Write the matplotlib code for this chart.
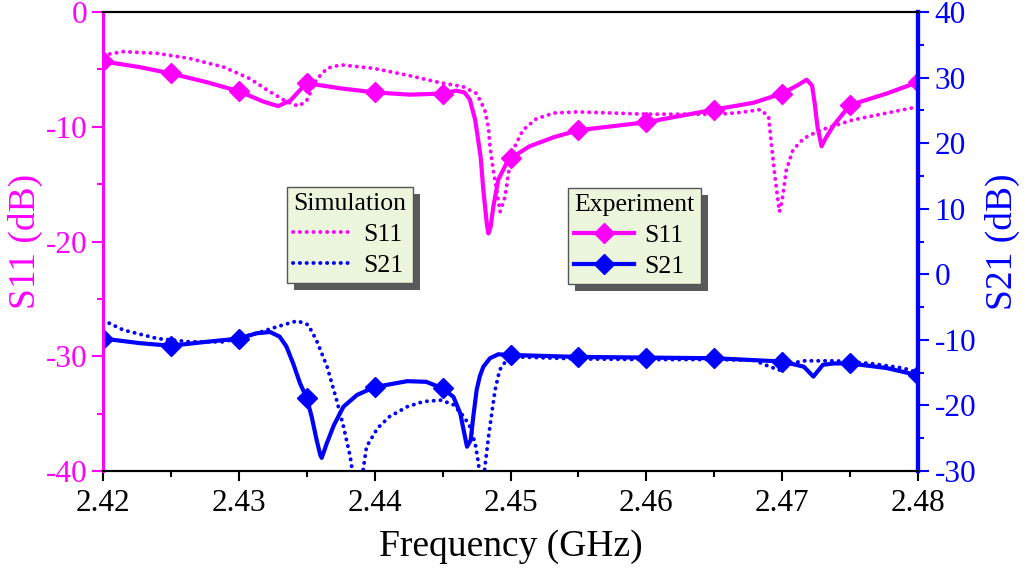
import numpy as np
import matplotlib
matplotlib.use('Agg')
import matplotlib.pyplot as plt
from matplotlib.lines import Line2D
from matplotlib.patches import Rectangle
from matplotlib.ticker import MultipleLocator, FormatStrFormatter

plt.rcParams['font.family'] = 'serif'
plt.rcParams['font.serif'] = ['Liberation Serif', 'DejaVu Serif']
plt.rcParams['axes.unicode_minus'] = False

# Measured S11 (left axis, dB)
f_s11_exp = [2.4200, 2.4227, 2.4250, 2.4276, 2.4300, 2.4318, 2.4329, 2.4338, 2.4345, 2.4350,
             2.4375, 2.4400, 2.4426, 2.4450, 2.4460, 2.4466, 2.4470, 2.4474, 2.4478, 2.4480,
             2.44825, 2.44837, 2.44854, 2.44873, 2.4491, 2.4497, 2.4500, 2.4514, 2.4532, 2.4550,
             2.4600, 2.4650, 2.4679, 2.4700, 2.4711, 2.4718, 2.4722, 2.4724, 2.4726, 2.4729,
             2.4732, 2.4738, 2.4750, 2.4777, 2.4800]
s11_exp = [-4.3, -4.8, -5.35, -6.1, -6.9, -7.8, -8.2, -7.7, -6.8, -6.2,
           -6.65, -7.0, -7.2, -7.1, -6.85, -7.0, -7.6, -9.4, -12.6, -15.5,
           -18.4, -19.3, -18.7, -17.0, -14.6, -13.2, -12.75, -11.7, -10.9, -10.3,
           -9.6, -8.5, -7.9, -7.1, -6.4, -5.9, -6.4, -8.0, -10.0, -11.7,
           -11.0, -9.85, -8.1, -7.1, -6.1]

# Simulated S11 (left axis, dB)
f_s11_sim = [2.4200, 2.4215, 2.4240, 2.4264, 2.4289, 2.4308, 2.4323, 2.4335, 2.4344, 2.4350,
             2.4357, 2.4365, 2.4375, 2.4399, 2.4424, 2.4448, 2.4465, 2.4475, 2.4481, 2.44837,
             2.44849, 2.44873, 2.44898, 2.44923, 2.4496, 2.44984, 2.4502, 2.4509, 2.4519, 2.4532,
             2.4549, 2.4600, 2.4654, 2.4669, 2.4684, 2.4690, 2.4692, 2.46947, 2.46972, 2.4698,
             2.4700, 2.4703, 2.4708, 2.4716, 2.4728, 2.4752, 2.4777, 2.4800]
s11_sim = [-3.75, -3.45, -3.6, -4.05, -4.8, -5.8, -6.95, -7.8, -8.2, -7.7,
           -5.9, -4.9, -4.6, -4.9, -5.5, -6.15, -6.5, -7.1, -8.5, -10.0,
           -11.7, -13.8, -15.5, -17.4, -16.1, -14.1, -12.0, -10.3, -9.3, -8.8,
           -8.7, -8.9, -8.9, -8.75, -8.5, -9.1, -11.45, -14.35, -16.7, -17.4,
           -16.4, -13.8, -12.0, -11.0, -10.3, -9.4, -8.8, -8.25]

# Measured S21 (right axis, dB)
f_s21_exp = [2.4200, 2.4227, 2.4250, 2.4276, 2.4300, 2.4313, 2.4323, 2.4330, 2.4335, 2.4340,
             2.4345, 2.4350, 2.43536, 2.43573, 2.4360, 2.4361, 2.43622, 2.43647, 2.4370, 2.4377,
             2.4387, 2.4400, 2.4424, 2.4438, 2.4450, 2.4458, 2.4463, 2.44665, 2.4468, 2.44707,
             2.44726, 2.44751, 2.44775, 2.4480, 2.44849, 2.4491, 2.4500, 2.4550, 2.4600, 2.4650,
             2.4700, 2.4716, 2.4723, 2.4730, 2.4738, 2.4750, 2.4777, 2.4800]
s21_exp = [-9.8, -10.5, -10.9, -10.3, -9.8, -9.0, -8.8, -9.5, -11.0, -13.6,
           -16.6, -18.9, -21.7, -25.3, -27.6, -28.0, -27.3, -25.8, -23.0, -20.2,
           -18.4, -17.2, -16.3, -16.4, -17.4, -18.7, -21.2, -24.8, -26.3, -25.3,
           -21.7, -17.6, -15.5, -14.1, -12.8, -12.2, -12.3, -12.6, -12.7, -12.8,
           -13.3, -14.1, -15.6, -13.8, -13.6, -13.6, -14.3, -15.4]

# Simulated S21 (right axis, dB)
f_s21_sim = [2.4200, 2.4215, 2.4240, 2.4264, 2.4289, 2.4313, 2.4328, 2.4343, 2.4351, 2.4357,
             2.4365, 2.4372, 2.4377, 2.4382, 2.4385, 2.4387, 2.4390, 2.4394, 2.4402, 2.4411,
             2.4424, 2.4436, 2.4449, 2.4458, 2.4466, 2.4470, 2.4474, 2.4476, 2.4478, 2.4480,
             2.44812, 2.44837, 2.44862, 2.44887, 2.4492, 2.4497, 2.4505, 2.4550, 2.4600, 2.4650,
             2.4679, 2.4691, 2.4698, 2.4706, 2.4716, 2.4740, 2.4765, 2.4789, 2.4800]
s21_sim = [-7.0, -8.5, -9.8, -10.3, -10.3, -9.0, -8.0, -7.1, -7.7, -10.0,
           -14.1, -19.2, -23.2, -27.8, -32.0, -33.0, -32.0, -26.3, -23.5, -21.7,
           -20.2, -19.4, -19.2, -19.9, -21.8, -23.2, -25.8, -28.3, -31.5, -32.0,
           -29.3, -25.0, -21.2, -17.6, -14.6, -13.1, -12.6, -12.9, -13.0, -13.0,
           -13.1, -14.1, -14.6, -13.6, -13.2, -13.2, -13.6, -14.3, -15.0]

magenta = '#ff00ff'
blue = '#0000ff'
dotted = (0, (0.05, 1.7))

fig = plt.figure(figsize=(10.25, 5.75), dpi=100)
ax = fig.add_axes([0.1005, 0.1809, 0.7951, 0.7981])
ax2 = ax.twinx()

def mark_idx(f):
    f = np.asarray(f)
    k = (f - 2.42) / 0.005
    return list(np.where(np.isclose(k, np.round(k), atol=1e-6))[0])

ax.plot(f_s11_sim, s11_sim, color=magenta, lw=2.8, ls=dotted, dash_capstyle='round')
ax.plot(f_s11_exp, s11_exp, color=magenta, lw=3, solid_joinstyle='round',
        marker='D', ms=10, markevery=mark_idx(f_s11_exp))
ax2.plot(f_s21_sim, s21_sim, color=blue, lw=2.8, ls=dotted, dash_capstyle='round')
ax2.plot(f_s21_exp, s21_exp, color=blue, lw=3, solid_joinstyle='round',
         marker='D', ms=10, markevery=mark_idx(f_s21_exp))

ax.set_xlim(2.42, 2.48)
ax.set_ylim(-40, 0)
ax2.set_ylim(-30, 40)

ax.xaxis.set_major_locator(MultipleLocator(0.01))
ax.xaxis.set_minor_locator(MultipleLocator(0.005))
ax.yaxis.set_major_locator(MultipleLocator(10))
ax.yaxis.set_minor_locator(MultipleLocator(5))
ax2.yaxis.set_major_locator(MultipleLocator(10))
ax2.yaxis.set_minor_locator(MultipleLocator(5))
ax.xaxis.set_major_formatter(FormatStrFormatter('%.2f'))

ax.tick_params(axis='x', which='major', length=7, width=1.5, labelsize=22.5, direction='out', pad=6)
ax.tick_params(axis='x', which='minor', length=4, width=1.5, direction='out')
ax.tick_params(axis='y', which='major', length=8, width=1.5, labelsize=22.5, colors=magenta, direction='out', pad=3)
ax.tick_params(axis='y', which='minor', length=4, width=1.5, colors=magenta, direction='out')
ax2.tick_params(axis='y', which='major', length=8, width=1.5, labelsize=22.5, colors=blue, direction='out', pad=4)
ax2.tick_params(axis='y', which='minor', length=4, width=1.5, colors=blue, direction='out')

for a in (ax, ax2):
    a.spines['left'].set_color(magenta)
    a.spines['left'].set_linewidth(2)
    a.spines['right'].set_color(blue)
    a.spines['right'].set_linewidth(3)
    a.spines['top'].set_linewidth(1.5)
    a.spines['bottom'].set_linewidth(1.5)

ax.set_xlabel('Frequency (GHz)', fontsize=27, labelpad=8)
ax.set_ylabel('S11 (dB)', fontsize=27, color=magenta, labelpad=2)
ax2.set_ylabel('S21 (dB)', fontsize=27, color=blue, labelpad=6)

leg_kw = dict(fontsize=18.5, title_fontsize=18.5, loc='upper left', frameon=True,
              fancybox=False, edgecolor='#555555', facecolor='#ecf6dc', framealpha=1,
              handlelength=2.3, handletextpad=0.4, borderpad=0.25, borderaxespad=0,
              labelspacing=0.3, alignment='left')

h_sim = [Line2D([], [], color=magenta, lw=2.8, ls=dotted, dash_capstyle='round'),
         Line2D([], [], color=blue, lw=2.8, ls=dotted, dash_capstyle='round')]
h_exp = [Line2D([], [], color=magenta, lw=3, marker='D', ms=10),
         Line2D([], [], color=blue, lw=3, marker='D', ms=10)]

leg1 = ax2.legend(h_sim, ['S11', 'S21'], title='Simulation',
                  bbox_to_anchor=(0.2258, 0.6187), **leg_kw)
ax2.add_artist(leg1)
leg2 = ax2.legend(h_exp, ['S11', 'S21'], title='Experiment',
                  bbox_to_anchor=(0.5706, 0.6166), **leg_kw)
for lg in (leg1, leg2):
    lg.get_frame().set_linewidth(1.0)
    lg.set_zorder(6)

# offset grey shadows behind legends
fig.canvas.draw()
inv = fig.transFigure.inverted()
for lg in (leg1, leg2):
    bb = lg.get_window_extent().transformed(inv)
    dx, dy = 7 / 1025, 7 / 575
    sh = Rectangle((bb.x0 + dx, bb.y0 - dy), bb.width, bb.height, transform=fig.transFigure,
                   facecolor='#5a5a5a', edgecolor='none', zorder=5.5, clip_on=False)
    ax2.add_artist(sh)

fig.savefig('out.png', dpi=100)
